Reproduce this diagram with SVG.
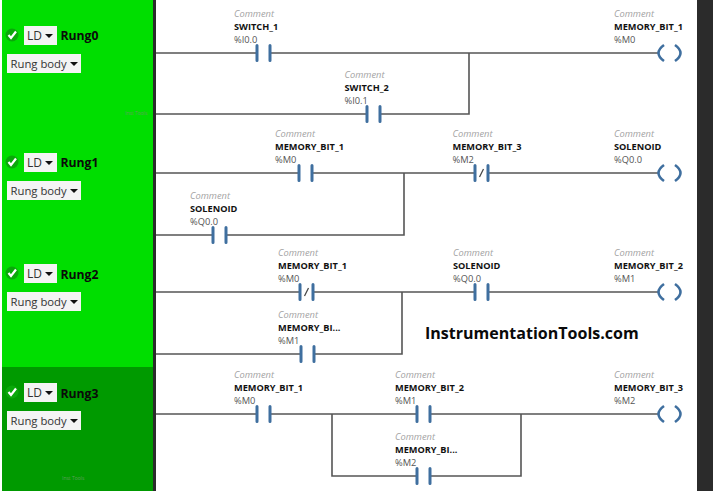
<svg xmlns="http://www.w3.org/2000/svg" width="720" height="491" viewBox="0 0 720 491">
<style>
text{font-family:"Open Sans","Noto Sans","Liberation Sans",sans-serif}
.c{font-size:9.3px;font-style:italic;fill:#a3a3a3}
.n{font-size:9.2px;font-weight:700;fill:#111}
.a{font-size:9.3px;fill:#555}
.w{fill:none;stroke:#555;stroke-width:1.6}
.bar{stroke:#3f6f9f;stroke-width:3;stroke-linecap:round;fill:none}
.coil{stroke:#3f6f9f;stroke-width:2.6;fill:none}
.box{fill:#f4f4f4}
.ld{font-size:12px;fill:#333}
.rb{font-size:11.3px;fill:#333}
.r{font-size:12.2px;font-weight:700;fill:#0a0a0a}
.tiny{font-size:5px;fill:#5f9f5f}
.tri{fill:#111}
.chk{fill:none;stroke:#fff;stroke-width:2.2}
</style>
<defs>
<g id="no"><path class="bar" d="M-6.5-7.500V7.500M6.5-7.500V7.500"/></g>
<g id="nc"><path class="bar" d="M-6.5-7.500V7.500M6.500-7.500V7.500"/><path d="M-2 4L2-4" stroke="#444" stroke-width="1.2"/></g>
<g id="ci"><path class="coil" d="M4-8Q-7 0 4 8M15-8Q26 0 15 8"/></g>
<g id="hd"><circle cx="12" cy="0" r="6.5" fill="#0aa80a"/><path class="chk" d="M8.5 0L11 3L16-3.5"/><rect class="box" x="24" y="-9" width="33" height="19"/><text class="ld" x="27" y="5">LD</text><path class="tri" d="M45-1H53L49 3Z"/><rect class="box" x="7" y="19" width="74" height="19"/><text class="rb" x="10.500" y="33">Rung body</text><path class="tri" d="M70 27H78L74 31Z"/></g>
</defs>
<rect width="720" height="491" fill="#fff"/>
<rect x="2" y="0" width="151" height="367" fill="#00de00"/>
<rect x="2" y="367" width="151" height="124" fill="#009a00"/>
<rect x="153" y="0" width="3" height="491" fill="#2b2b2b"/>
<rect x="697" y="0" width="16" height="491" fill="#2b2b2b"/>
<text class="tiny" x="125" y="115">Inst Tools</text>
<text class="tiny" x="62" y="480">Inst Tools</text>
<g id="rung0"><use href="#hd" y="35"/><text class="r" x="60.500" y="40">Rung0</text></g>
<g id="rung1"><use href="#hd" y="162"/><text class="r" x="60.500" y="167">Rung1</text></g>
<g id="rung2"><use href="#hd" y="273"/><text class="r" x="60.500" y="279">Rung2</text></g>
<g id="rung3"><use href="#hd" y="392"/><text class="r" x="60.500" y="398">Rung3</text></g>
<g id="connectors">
<path class="w" d="M156 53H257M270 53H658M156 114H367M380 114H469V53"/>
<path class="w" d="M156 173H299M312 173H475M488 173H658M156 235H213M226 235H404V173"/>
<path class="w" d="M156 292H300M313 292H475M488 292H658M156 354H301M314 354H402V292"/>
<path class="w" d="M156 414H257M270 414H417M430 414H658M332 414V476H417M430 476H521V414"/>
</g>
<g id="switch1" transform="translate(234,53)"><text class="c" x="0" y="-36">Comment</text><text class="n" y="-23">SWITCH_1</text><text class="a" y="-10">%I0.0</text><use href="#no" x="29.500"/></g>
<g id="switch2" transform="translate(344.500,114)"><text class="c" y="-36">Comment</text><text class="n" y="-23">SWITCH_2</text><text class="a" y="-10">%I0.1</text><use href="#no" x="29"/></g>
<g id="coilM0" transform="translate(614,53)"><text class="c" y="-36">Comment</text><text class="n" y="-23">MEMORY_BIT_1</text><text class="a" y="-10">%M0</text><use href="#ci" x="46"/></g>
<g id="m1a" transform="translate(275,173)"><text class="c" y="-36">Comment</text><text class="n" y="-23">MEMORY_BIT_1</text><text class="a" y="-10">%M0</text><use href="#no" x="30.500"/></g>
<g id="m3nc" transform="translate(452.500,173)"><text class="c" y="-36">Comment</text><text class="n" y="-23">MEMORY_BIT_3</text><text class="a" y="-10">%M2</text><use href="#nc" x="29"/></g>
<g id="coilQ" transform="translate(614,173)"><text class="c" y="-36">Comment</text><text class="n" y="-23">SOLENOID</text><text class="a" y="-10">%Q0.0</text><use href="#ci" x="46"/></g>
<g id="qhold" transform="translate(190,235)"><text class="c" y="-36">Comment</text><text class="n" y="-23">SOLENOID</text><text class="a" y="-10">%Q0.0</text><use href="#no" x="29.500"/></g>
<g id="m1nc" transform="translate(278,292)"><text class="c" y="-36">Comment</text><text class="n" y="-23">MEMORY_BIT_1</text><text class="a" y="-10">%M0</text><use href="#nc" x="28.500"/></g>
<g id="qc" transform="translate(453,292)"><text class="c" y="-36">Comment</text><text class="n" y="-23">SOLENOID</text><text class="a" y="-10">%Q0.0</text><use href="#no" x="28.500"/></g>
<g id="coilM1" transform="translate(614,292)"><text class="c" y="-36">Comment</text><text class="n" y="-23">MEMORY_BIT_2</text><text class="a" y="-10">%M1</text><use href="#ci" x="46"/></g>
<g id="m2hold" transform="translate(278,354)"><text class="c" y="-36">Comment</text><text class="n" y="-23">MEMORY_BI...</text><text class="a" y="-10">%M1</text><use href="#no" x="29.500"/></g>
<g id="m1b" transform="translate(234,414)"><text class="c" y="-36">Comment</text><text class="n" y="-23">MEMORY_BIT_1</text><text class="a" y="-10">%M0</text><use href="#no" x="29.500"/></g>
<g id="m2b" transform="translate(395,414)"><text class="c" y="-36">Comment</text><text class="n" y="-23">MEMORY_BIT_2</text><text class="a" y="-10">%M1</text><use href="#no" x="28.500"/></g>
<g id="coilM2" transform="translate(614,414)"><text class="c" y="-36">Comment</text><text class="n" y="-23">MEMORY_BIT_3</text><text class="a" y="-10">%M2</text><use href="#ci" x="46"/></g>
<g id="m3b" transform="translate(395,476)"><text class="c" y="-36">Comment</text><text class="n" y="-23">MEMORY_BI...</text><text class="a" y="-10">%M2</text><use href="#no" x="28.500"/></g>
<text x="425" y="339" font-size="16.050" font-weight="700" fill="#0a0a0a">InstrumentationTools.com</text>
</svg>
